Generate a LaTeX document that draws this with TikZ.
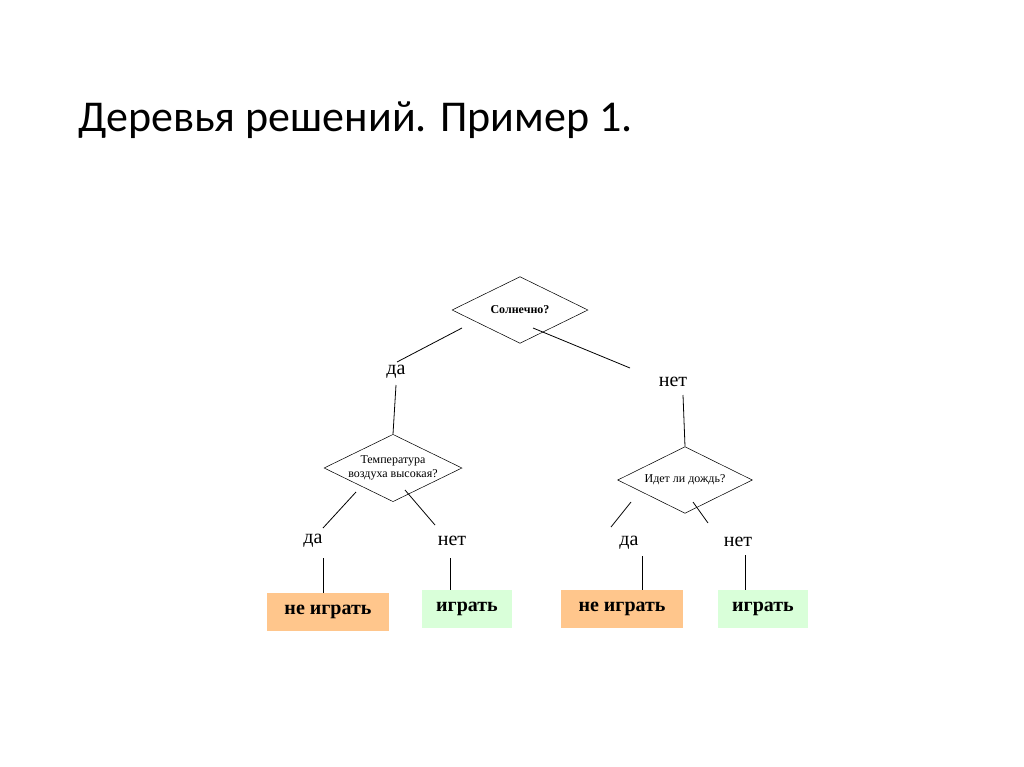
\documentclass[tikz,border=0pt]{standalone}
\usepackage{fontspec}
\setmainfont{Liberation Serif}
\newfontfamily\titlefont{Carlito}
\usetikzlibrary{shapes.geometric}
\begin{document}
\begin{tikzpicture}[x=0.75pt,y=-0.75pt,
  dia/.style={draw,diamond,aspect=2.05,inner sep=0pt,font=\fontsize{9}{10}\selectfont,align=center},
  lbl/.style={font=\fontsize{15}{17}\selectfont,inner sep=1pt},
  leaf/.style={inner sep=0pt,minimum height=28pt,font=\bfseries\fontsize{15}{17}\selectfont},
  no/.style={leaf,fill=orange!45!white},
  yes/.style={leaf,fill=green!15!white},
  ln/.style={draw,line width=0.6pt}]
\useasboundingbox (0,0) rectangle (1024,767);
\node[anchor=base west,inner sep=0pt,font=\titlefont\fontsize{33}{38}\selectfont] (title) at (78,131) {Деревья решений. Пример 1.};
\node[dia,minimum width=102pt,minimum height=50pt] (root) at (520,310) {\textbf{Солнечно?}};
\node[lbl] (d1) at (396,372) {да};
\node[lbl] (n1) at (673,382) {нет};
\node[dia,minimum width=103pt,minimum height=49pt] (temp) at (393,468) {Температура\\воздуха высокая?};
\node[dia,minimum width=101pt,minimum height=50pt] (rain) at (685,480) {Идет ли дождь?};
\node[lbl] (d2) at (313,541) {да};
\node[lbl] (n2) at (452,541) {нет};
\node[lbl] (d3) at (629,543) {да};
\node[lbl] (n3) at (738,542) {нет};
\node[no,minimum width=91pt] (l1) at (328,612) {не играть};
\node[yes,minimum width=68pt] (l2) at (467,609) {играть};
\node[no,minimum width=91pt] (l3) at (622,609) {не играть};
\node[yes,minimum width=68pt] (l4) at (763,609) {играть};
\coordinate (a1) at (462,328); \coordinate (a2) at (397,362);
\coordinate (b1) at (533,328); \coordinate (b2) at (630,368);
\draw[ln] (a1) -- (a2);
\draw[ln] (b1) -- (b2);
\draw[ln] (396,385) -- (temp.north);
\draw[ln] (683,395) -- (rain.north);
\draw[ln] (356,492) -- (323,528);
\draw[ln] (405,490) -- (435,525);
\draw[ln] (631,502) -- (611,527);
\draw[ln] (693,502) -- (708,523);
\draw[ln] (323,558) -- (l1.north -| 323,0);
\draw[ln] (450,558) -- (l2.north -| 450,0);
\draw[ln] (642,556) -- (l3.north -| 642,0);
\draw[ln] (745,555) -- (l4.north -| 745,0);
\end{tikzpicture}
\end{document}
